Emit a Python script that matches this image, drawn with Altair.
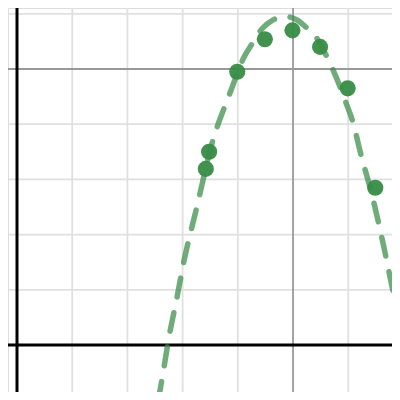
import altair as alt
import pandas as pd

# scatter points
pt_x = [3.42, 3.48, 3.99, 4.49, 4.99, 5.49, 5.99, 6.49, 6.96]
pt_y = [3.19, 3.50, 4.95, 5.54, 5.70, 5.40, 4.65, 2.85, 0.00]

# dashed curve, positions
cv_x = [2.56, 2.65, 2.76, 2.89, 3.01, 3.26, 3.56, 3.74, 3.89, 4.10, 4.28, 4.43,
        4.64, 4.86, 5.07, 5.22, 5.40, 5.61, 5.79, 5.97, 6.09, 6.21, 6.46, 6.61,
        6.76, 6.84, 6.91, 6.94]
cv_y = [-1.00, -0.48, 0.18, 0.82, 1.45, 2.51, 3.75, 4.26, 4.65, 5.19, 5.49, 5.72,
        5.89, 5.95, 5.89, 5.77, 5.60, 5.23, 4.83, 4.36, 4.02, 3.53, 2.60, 1.94,
        1.22, 0.82, 0.40, 0.24]

# grid lines
minor_x = [1, 2, 3, 4, 6]
minor_y = [1, 2, 3, 4, 6]
major_x = [5]
major_y = [5]
axis_x = [0]
axis_y = [0]

X_DOM = [-0.163, 6.793]
Y_DOM = [-0.851, 6.105]

xs = alt.Scale(domain=X_DOM, nice=False, zero=False)
ys = alt.Scale(domain=Y_DOM, nice=False, zero=False)
noax = None

def vrules(vals, color, width):
    return alt.Chart(pd.DataFrame({"x": vals})).mark_rule(
        color=color, strokeWidth=width, clip=True
    ).encode(x=alt.X("x:Q", scale=xs, axis=noax))

def hrules(vals, color, width):
    return alt.Chart(pd.DataFrame({"y": vals})).mark_rule(
        color=color, strokeWidth=width, clip=True
    ).encode(y=alt.Y("y:Q", scale=ys, axis=noax))

curve_df = pd.DataFrame({"x": cv_x, "y": cv_y, "i": list(range(len(cv_x)))})
pts_df = pd.DataFrame({"x": pt_x, "y": pt_y})

curve = alt.Chart(curve_df).mark_line(
    color="#388c46", opacity=0.72, strokeWidth=5.5, strokeDash=[19, 16],
    strokeCap="round", interpolate="monotone", clip=True
).encode(
    x=alt.X("x:Q", scale=xs, axis=noax),
    y=alt.Y("y:Q", scale=ys, axis=noax),
    order="i:Q",
)

points = alt.Chart(pts_df).mark_circle(
    color="#388c46", opacity=0.95, size=260, clip=True
).encode(
    x=alt.X("x:Q", scale=xs, axis=noax),
    y=alt.Y("y:Q", scale=ys, axis=noax),
)

chart = alt.layer(
    vrules(minor_x, "#e0e0e0", 1.8),
    hrules(minor_y, "#e0e0e0", 1.8),
    vrules(major_x, "#999999", 1.8),
    hrules(major_y, "#999999", 1.8),
    vrules(axis_x, "#000000", 3),
    hrules(axis_y, "#000000", 3),
    points,
    curve,
).properties(
    width=384, height=384, padding=0
).configure_view(stroke=None).configure(background="white")

chart.save("out.html", embed_options={"renderer": "svg", "actions": False})
